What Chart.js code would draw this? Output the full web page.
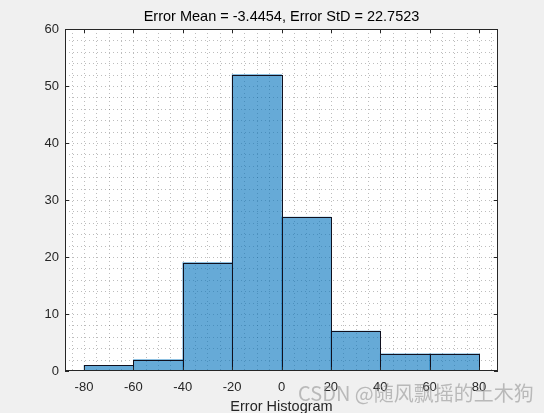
<!DOCTYPE html>
<html>
<head>
<meta charset="utf-8">
<script src="https://cdn.jsdelivr.net/npm/chart.js@4.4.1/dist/chart.umd.min.js"></script>
<style>
  html, body { margin: 0; padding: 0; background: #f0f0f0; }
  #wrap { width: 544px; height: 413px; }
</style>
</head>
<body>
<div id="wrap"><canvas id="histChart" width="544" height="413"></canvas></div>
<script>
// histogram data
const binEdges = [-80, -60, -40, -20, 0, 20, 40, 60, 80];
const counts = [1, 2, 19, 52, 27, 7, 3, 3];
const xTicks = [-80, -60, -40, -20, 0, 20, 40, 60, 80];
const yTicks = [0, 10, 20, 30, 40, 50, 60];
const titleText = 'Error Mean = -3.4454, Error StD = 22.7523';
const xLabel = 'Error Histogram';
const watermark = 'CSDN @随风飘摇的土木狗';

const FONT = "'Liberation Sans', Arial, Helvetica, sans-serif";
const INK = '#262626';

const bars = counts.map((c, i) => ({ x: (binEdges[i] + binEdges[i + 1]) / 2, y: c }));

// matlab style box, dotted minor grid, inward ticks, titles
const matlabAxes = {
  id: 'matlabAxes',
  beforeDraw(chart) {
    const { ctx, chartArea: a } = chart;
    ctx.save();
    ctx.fillStyle = '#f0f0f0';
    ctx.fillRect(0, 0, chart.width, chart.height);
    ctx.fillStyle = '#ffffff';
    ctx.fillRect(a.left, a.top, a.right - a.left, a.bottom - a.top);
    ctx.restore();
  },
  beforeDatasetsDraw(chart) {
    const { ctx, chartArea: a, scales } = chart;
    ctx.save();
    ctx.strokeStyle = 'rgba(38,38,38,0.3)';
    ctx.lineWidth = 1;
    ctx.setLineDash([1, 3]);
    ctx.beginPath();
    for (let v = -85; v <= 85; v += 5) {
      const px = Math.round(scales.x.getPixelForValue(v)) + 0.5;
      ctx.moveTo(px, a.top);
      ctx.lineTo(px, a.bottom);
    }
    for (let v = 2; v < 60; v += 2) {
      const py = Math.round(scales.y.getPixelForValue(v)) + 0.5;
      ctx.moveTo(a.left, py);
      ctx.lineTo(a.right, py);
    }
    ctx.stroke();
    ctx.restore();
  },
  afterDatasetsDraw(chart) {
    const { ctx, chartArea: a, scales } = chart;
    ctx.save();
    ctx.strokeStyle = '#10101e';
    ctx.lineWidth = 1;
    // thin edges round each bar, from the bar elements themselves
    chart.getDatasetMeta(0).data.forEach(el => {
      const p = el.getProps(['x', 'y', 'base', 'width'], true);
      const l = Math.round(p.x - p.width / 2) + 0.5;
      const r = Math.round(p.x + p.width / 2) + 0.5;
      const t = Math.round(p.y) + 0.5;
      const b = Math.round(p.base) - 0.5;
      ctx.strokeRect(l, t, r - l, b - t);
    });
    ctx.strokeStyle = INK;
    ctx.strokeRect(a.left + 0.5, a.top + 0.5, a.right - a.left - 1, a.bottom - a.top - 1);
    ctx.beginPath();
    const tl = 4;
    xTicks.forEach(v => {
      const px = Math.round(scales.x.getPixelForValue(v)) + 0.5;
      ctx.moveTo(px, a.bottom); ctx.lineTo(px, a.bottom - tl);
      ctx.moveTo(px, a.top); ctx.lineTo(px, a.top + tl);
    });
    yTicks.forEach(v => {
      const py = Math.round(scales.y.getPixelForValue(v)) + 0.5;
      ctx.moveTo(a.left, py); ctx.lineTo(a.left + tl, py);
      ctx.moveTo(a.right, py); ctx.lineTo(a.right - tl, py);
    });
    ctx.stroke();
    ctx.restore();
  },
  afterDraw(chart) {
    const { ctx, chartArea: a } = chart;
    const cx = (a.left + a.right) / 2;
    ctx.save();
    ctx.fillStyle = '#000000';
    ctx.font = '14.5px ' + FONT;
    ctx.textAlign = 'center';
    ctx.textBaseline = 'alphabetic';
    ctx.fillText(titleText, cx, 21);
    ctx.fillStyle = INK;
    ctx.fillText(xLabel, cx, 411);
    ctx.font = "20px 'Noto Sans CJK SC', sans-serif";
    ctx.textAlign = 'left';
    ctx.fillStyle = 'rgba(140,140,140,0.55)';
    ctx.fillText(watermark, 298, 401);
    ctx.restore();
  }
};

const ctx = document.getElementById('histChart').getContext('2d');
new Chart(ctx, {
  type: 'bar',
  data: {
    datasets: [{
      label: 'Error',
      data: bars,
      backgroundColor: 'rgba(0,114,189,0.6)',
      borderWidth: 0,
      barPercentage: 1,
      categoryPercentage: 1
    }]
  },
  options: {
    responsive: false,
    animation: false,
    layout: { padding: { left: 0, top: 29, right: 46, bottom: 0 } },
    plugins: {
      legend: { display: false },
      title: { display: false },
      tooltip: { enabled: false }
    },
    scales: {
      x: {
        type: 'linear',
        offset: false,
        min: -87.7,
        max: 87.7,
        grid: { display: false, drawTicks: false, offset: false },
        border: { display: false },
        afterBuildTicks: s => { s.ticks = xTicks.map(v => ({ value: v })); },
        afterFit: s => { s.height = 42; },
        ticks: { padding: 9, color: INK, font: { family: FONT, size: 13 }, maxRotation: 0 }
      },
      y: {
        min: 0,
        max: 60,
        grid: { display: false, drawTicks: false },
        border: { display: false },
        afterBuildTicks: s => { s.ticks = yTicks.map(v => ({ value: v })); },
        afterFit: s => { s.width = 65; },
        ticks: { padding: 6, color: INK, font: { family: FONT, size: 13 } }
      }
    }
  },
  plugins: [matlabAxes]
});
</script>
</body>
</html>
